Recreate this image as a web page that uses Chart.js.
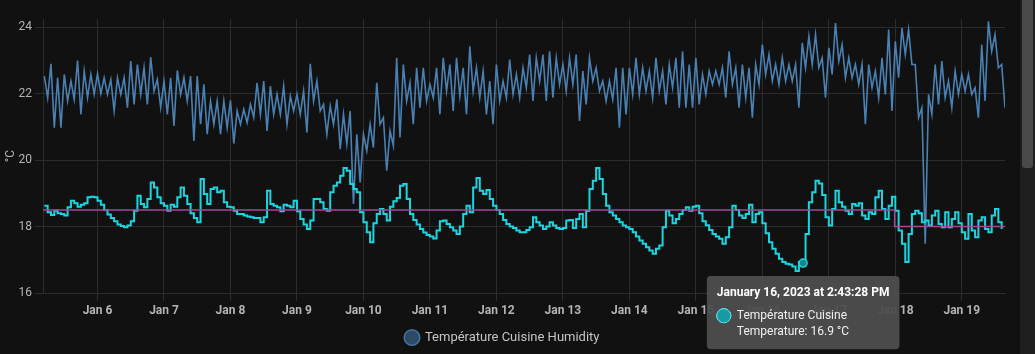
<!DOCTYPE html>
<html><head><meta charset="utf-8">
<script src="https://cdn.jsdelivr.net/npm/chart.js@4.4.1/dist/chart.umd.min.js"></script>
<style>
html,body{margin:0;padding:0;background:#111111;overflow:hidden;width:1035px;height:354px;}
#wrap{position:absolute;left:0;top:0;width:1020px;height:354px;}
#track{position:absolute;left:1020px;top:0;width:15px;height:354px;background:#1e1e1e;}
#thumb{position:absolute;left:1022px;top:0;width:11px;height:168px;background:#4a4a4a;border-radius:0 0 3px 3px;}
</style></head><body>
<div id="wrap"><canvas id="c" width="1020" height="354"></canvas></div>
<div id="track"></div><div id="thumb"></div>
<script>
// ---- data (x = day of January 2023, fractional) ----
const xTickDays = [6,7,8,9,10,11,12,13,14,15,16,17,18,19];
const yTicks = [16,18,20,22,24];

const cyanStart = 5.20, cyanStep = 0.05;
const cyanValues = [
18.63,18.43,18.35,18.48,18.40,18.38,18.33,18.58,18.78,18.70,
18.60,18.66,18.70,18.88,18.90,18.88,18.78,18.66,18.50,18.36,
18.26,18.16,18.06,18.02,17.98,18.03,18.16,18.48,18.93,18.68,
18.58,18.83,19.33,19.18,18.88,18.70,18.63,18.48,18.66,18.60,
18.88,19.18,18.93,18.68,18.40,18.26,18.13,19.43,18.98,18.68,
19.13,19.18,19.03,19.08,18.73,18.60,18.58,18.48,18.38,
18.38,18.33,18.30,18.28,18.26,18.26,18.13,18.28,19.08,18.68,
18.63,18.58,18.46,18.66,18.63,18.58,18.78,18.46,18.23,18.06,
17.93,18.18,18.83,18.83,18.73,18.53,18.48,19.03,19.23,19.33,
19.53,19.76,19.68,19.28,19.13,19.03,18.43,18.13,17.83,17.53,
18.10,18.38,18.53,18.38,18.18,18.60,18.76,18.86,19.23,19.28,
18.83,18.38,18.20,18.06,17.93,17.82,17.75,17.70,17.64,
17.88,18.16,18.18,18.08,17.98,17.88,17.78,18.00,18.38,18.63,
18.43,19.18,19.46,19.08,18.98,19.10,18.83,18.63,18.50,18.38,
18.20,18.08,18.00,17.96,17.88,17.83,17.83,17.90,17.98,18.28,
18.13,18.03,17.93,18.00,18.13,18.03,17.96,17.93,17.96,18.18,
18.20,17.96,18.23,18.38,17.98,18.48,19.13,19.38,19.76,19.43,
18.98,18.63,18.43,18.33,18.23,18.13,18.03,17.98,17.93,
17.83,17.70,17.58,17.48,17.38,17.28,17.18,17.33,17.43,17.98,
18.48,18.33,18.10,18.23,18.38,18.50,18.58,18.48,18.60,18.63,
18.40,18.16,18.04,17.90,17.78,17.70,17.63,17.48,17.68,17.98,
18.63,18.50,18.33,18.26,18.38,18.66,18.13,18.38,18.43,18.10,
17.80,17.53,17.33,17.18,17.03,16.93,16.88,16.86,16.80,16.66,
16.93,16.90,17.78,18.73,19.03,19.38,19.30,
18.95,18.28,18.03,18.53,19.08,18.73,18.60,18.48,18.38,18.68,
18.63,18.70,18.33,18.23,18.43,18.38,18.88,19.08,18.53,18.23,
18.63,18.90,18.48,17.88,17.48,16.93,17.78,18.38,18.48,18.40,
18.13,18.18,18.03,18.33,18.48,18.08,17.98,18.43,17.98,18.23,
18.43,18.10,17.83,17.63,18.38,17.88,17.68,18.18,18.28,17.93,
17.83,18.33,18.53,18.13,17.93
];

const blueStart = 5.20, blueStep = 0.10;
const blueHigh = [
22.53,22.90,22.48,22.58,22.38,23.00,22.68,22.58,22.60,22.48,22.43,22.48,22.48,22.98,22.88,22.78,23.10,22.43,22.38,22.48,22.70,22.48,22.53,22.53,22.28,21.78,21.78,21.78,21.80,
21.48,21.53,21.68,22.33,22.38,22.23,21.98,22.23,21.93,21.98,22.08,22.90,22.38,21.68,21.63,21.83,21.38,21.48,20.78,20.78,21.08,22.33,21.28,20.88,23.08,22.88,22.33,22.78,22.78,22.28,
22.78,23.08,22.88,23.08,22.78,23.43,22.78,22.68,22.38,22.88,22.38,23.03,22.58,22.78,23.18,23.08,23.18,23.28,23.08,22.88,23.08,23.18,22.68,23.08,22.78,22.38,22.38,22.78,22.78,
22.78,23.08,22.78,22.68,23.08,22.68,22.88,23.08,23.28,22.88,23.08,22.58,22.68,22.68,22.78,23.28,22.78,22.88,22.78,22.88,23.48,23.18,22.88,23.08,22.88,22.88,23.53,23.73,
23.78,23.08,23.38,24.13,23.48,23.08,22.88,22.88,22.88,22.68,23.08,23.93,23.58,23.98,23.93,22.88,21.58,21.98,22.88,22.98,22.38,22.68,22.58,22.58,22.18,23.48,24.18,23.78,22.88
];
const blueLow = [
21.88,20.98,20.98,21.78,21.83,21.38,21.88,21.98,22.00,21.98,21.48,21.98,21.58,21.68,21.98,21.68,22.08,21.58,21.38,21.03,21.98,21.78,20.58,21.08,20.78,21.08,20.78,20.98,20.50,
21.08,21.13,21.28,21.38,20.88,21.38,21.38,21.08,21.48,21.38,20.83,21.78,21.48,20.78,21.08,20.33,20.48,18.68,19.33,20.28,20.38,21.08,19.68,20.43,20.68,21.78,21.08,21.58,21.78,21.88,
21.38,22.08,21.48,21.93,21.38,22.08,21.88,21.38,21.08,21.78,21.88,21.98,21.88,22.18,21.78,22.38,21.78,21.88,22.28,22.08,22.28,21.18,21.68,22.38,22.08,21.78,21.83,20.98,21.38,
21.98,21.98,22.08,21.88,22.08,21.68,22.18,21.58,21.58,21.58,21.68,21.98,22.28,22.28,21.88,22.28,21.58,21.88,21.28,22.28,22.58,22.38,22.28,22.38,22.38,21.58,22.78,22.88,
22.78,21.88,22.58,22.98,22.48,22.48,22.28,21.08,22.18,21.88,21.98,21.48,22.48,23.18,22.88,21.28,17.48,21.38,21.68,21.88,21.58,21.98,22.08,21.98,21.28,21.78,23.28,22.78,21.58
];

const targetTimes = [5.18, 17.99, 19.65];
const targetValues = [18.5, 18.0, 18.0];

const hoverTime = '2023-01-16T14:43:28';
const hoverValue = 16.9;

// ---- build ----
function toDay(iso){
  const [d,t] = iso.split('T');
  const D = Number(d.split('-')[2]);
  const [h,m,s] = t.split(':').map(Number);
  return D + (h*3600+m*60+s)/86400;
}
function fmt(x){
  const day = Math.floor(x);
  const secs = Math.round((x-day)*86400);
  const h = Math.floor(secs/3600), m = Math.floor((secs%3600)/60), s = secs%60;
  const h12 = h%12===0 ? 12 : h%12;
  return 'January ' + day + ', 2023 at ' + h12 + ':' + String(m).padStart(2,'0') + ':' + String(s).padStart(2,'0') + ' ' + (h<12?'AM':'PM');
}

const cyanPts = cyanValues.map((v,i)=>({x: +(cyanStart + i*cyanStep).toFixed(4), y: v}));
const hx = toDay(hoverTime);
const hoverIndex = cyanPts.findIndex(p => p.x > hx);
cyanPts.splice(hoverIndex, 0, {x: hx, y: hoverValue});

const bluePts = [];
blueHigh.forEach((v,i)=>{
  const x = +(blueStart + i*blueStep).toFixed(4);
  bluePts.push({x: x, y: v});
  bluePts.push({x: +(x + blueStep/2).toFixed(4), y: blueLow[i]});
});
const targetPts = targetTimes.map((x,i)=>({x: x, y: targetValues[i]}));

const gridCol = '#2c2c2c';
const tickCol = '#b4b4b4';

const chart = new Chart(document.getElementById('c'), {
  type: 'line',
  data: { datasets: [
    { label: 'Température Cuisine Target', data: targetPts, borderColor: '#a04a9b', borderWidth: 1.5,
      stepped: true, pointRadius: 0, pointHoverRadius: 0, fill: false },
    { label: 'Température Cuisine', data: cyanPts, borderColor: '#1ad6e0', borderWidth: 2,
      stepped: true, pointRadius: 0, pointHoverRadius: 4, pointHoverBorderWidth: 1.5,
      pointHoverBackgroundColor: '#17858c', pointHoverBorderColor: '#1ed3df', fill: false },
    { label: 'Température Cuisine Current', data: bluePts, borderColor: '#4a80b2', borderWidth: 1.6,
      stepped: false, tension: 0, pointRadius: 0, pointHoverRadius: 0, fill: false },
    { label: 'Température Cuisine Humidity', data: [], backgroundColor: '#2d4a66', borderColor: '#44739e',
      borderWidth: 1.5, pointStyle: 'circle' }
  ]},
  options: {
    responsive: false, animation: false, events: [], devicePixelRatio: 1,
    layout: { padding: { top: 19, right: 15, bottom: 0, left: 0 } },
    scales: {
      x: {
        type: 'linear', min: 5.18, max: 19.65,
        afterBuildTicks: s => { s.ticks = xTickDays.map(v => ({value: v})); },
        afterFit: s => { s.height = 28; },
        ticks: { autoSkip: false, maxRotation: 0, color: tickCol, padding: 3,
          font: { family: 'Roboto', size: 12, weight: 'bold' }, callback: v => 'Jan ' + v },
        grid: { color: gridCol, tickLength: 8 },
        border: { color: gridCol }
      },
      y: {
        min: 16, max: 24.25,
        afterBuildTicks: s => { s.ticks = yTicks.map(v => ({value: v})); },
        afterFit: s => { s.width = 43; },
        ticks: { color: tickCol, padding: 3, font: { family: 'Roboto', size: 12 } },
        grid: { color: gridCol, tickLength: 8 },
        border: { color: gridCol },
        title: { display: true, text: '°C', color: tickCol, font: { family: 'Roboto', size: 12 } }
      }
    },
    plugins: {
      legend: {
        position: 'bottom',
        labels: { filter: item => item.datasetIndex === 3, usePointStyle: true, boxHeight: 11,
          color: '#c4c4c4', font: { family: 'Roboto', size: 13 } }
      },
      tooltip: {
        enabled: true, backgroundColor: 'rgba(78,78,78,0.95)', titleColor: '#ffffff', bodyColor: '#f0f0f0',
        titleFont: { family: 'Roboto', size: 12, weight: 'bold' }, bodyFont: { family: 'Roboto', size: 12 },
        padding: 10, caretSize: 0, caretPadding: 13, cornerRadius: 4,
        displayColors: true, usePointStyle: true, boxWidth: 14, boxHeight: 14, boxPadding: 4,
        titleMarginBottom: 8, yAlign: 'top', xAlign: 'center',
        filter: item => item.datasetIndex === 1,
        callbacks: {
          title: items => fmt(items[0].parsed.x),
          label: item => [item.dataset.label, 'Temperature: ' + item.parsed.y.toFixed(1) + ' °C'],
          labelColor: () => ({ backgroundColor: '#179aa0', borderColor: '#36dde6', borderWidth: 1.5 }),
          labelPointStyle: () => ({ pointStyle: 'circle', rotation: 0 })
        }
      }
    }
  }
});

const el = chart.getDatasetMeta(1).data[hoverIndex];
chart.setActiveElements([{datasetIndex: 1, index: hoverIndex}]);
chart.tooltip.setActiveElements([{datasetIndex: 1, index: hoverIndex}], {x: el.x, y: el.y});
chart.update();
</script></body></html>
